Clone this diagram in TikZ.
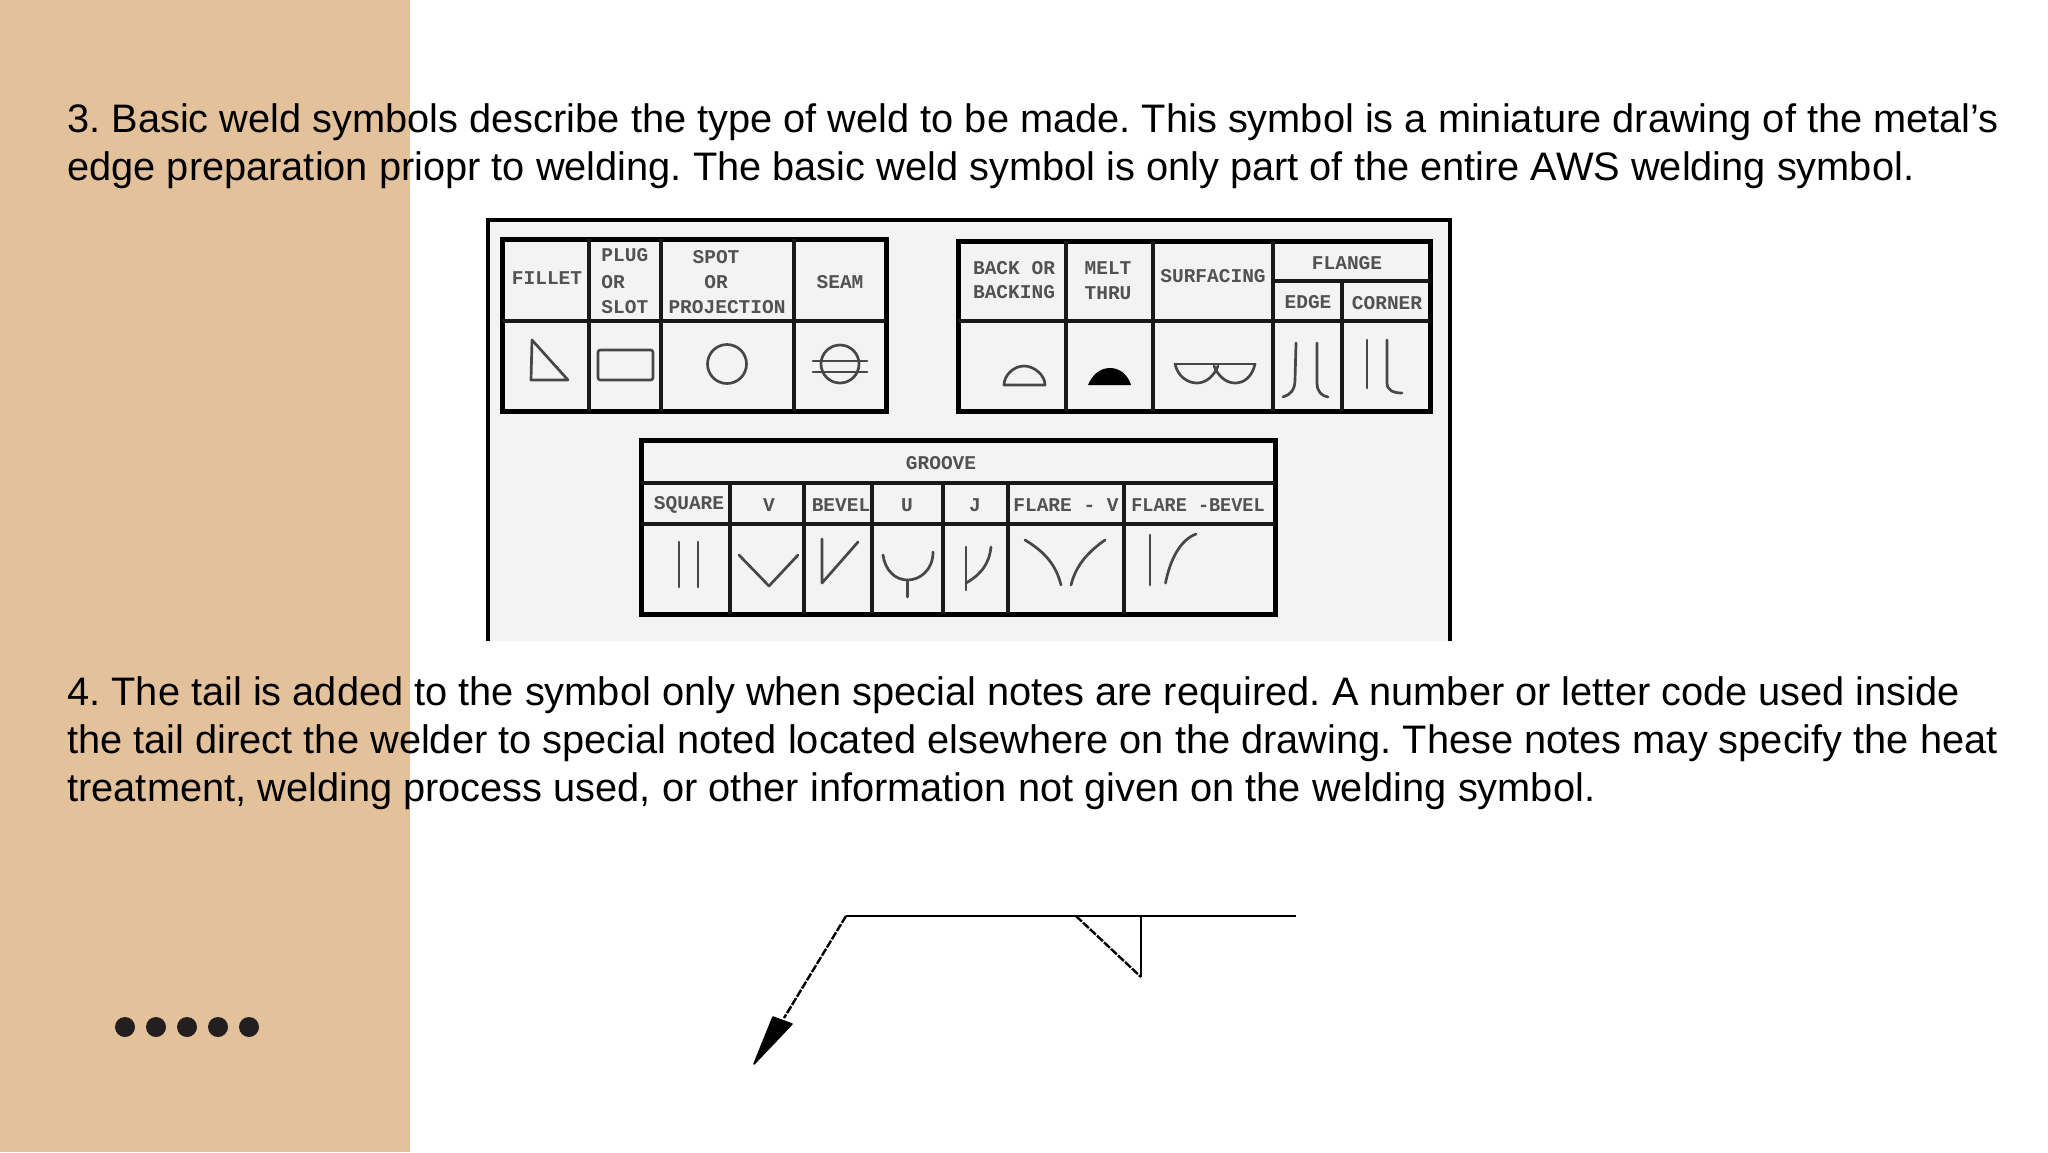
\documentclass[tikz,border=0pt]{standalone}
\usepackage{fontspec}
\setmainfont{Liberation Sans}
\newfontfamily\labelfont{Liberation Mono}
\definecolor{band}{RGB}{227,193,155}
\definecolor{panel}{RGB}{243,243,243}
\definecolor{ink}{RGB}{35,31,32}
\tikzset{
  body/.style={anchor=base west,inner sep=0pt,font=\frenchspacing\fontsize{19.89}{24}\selectfont,text=black},
  lab/.style={inner sep=0pt,font=\labelfont\bfseries\fontsize{9.75}{11}\selectfont,text=black!68},
  heavy/.style={line width=2.5pt,line cap=rect,black},
  rule/.style={line width=1.6pt,black!90},
  sym/.style={line width=1.35pt,black!72,line cap=round,line join=round},
  dotm/.style={circle,fill=ink,minimum size=10pt,inner sep=0pt},
  pix/.style={line width=1.2pt,black},
}
\begin{document}
\begin{tikzpicture}[x=0.5pt,y=-0.5pt]
\useasboundingbox (0,0) rectangle (2048,1152);
\fill[white] (0,0) rectangle (2048,1152);
\fill[band] (0,0) rectangle (410,1152);
% picture panel
\fill[panel] (488,220) rectangle (1450,641);
\draw[line width=2.3pt,black] (488,641) -- (488,220) -- (1450,220) -- (1450,641);
% text
\node[body] (t1) at (67,132) {3. Basic weld symbols describe the type of weld to be made. This symbol is a miniature drawing of the metal’s};
\node[body] (t2) at (67,180) {edge preparation priopr to welding. The basic weld symbol is only part of the entire AWS welding symbol.};
\node[body] (t3) at (67,705) {4. The tail is added to the symbol only when special notes are required. A number or letter code used inside};
\node[body] (t4) at (67,753) {the tail direct the welder to special noted located elsewhere on the drawing. These notes may specify the heat};
\node[body] (t5) at (67,801) {treatment, welding process used, or other information not given on the welding symbol.};
% table 1
\draw[heavy] (502,239) rectangle (886,411);
\draw[rule] (502,321) -- (886,321);
\foreach \x in {589,661,794} \draw[rule] (\x,239) -- (\x,411);
\node[lab] (a1) at (547,278) {FILLET};
\node[lab,anchor=west] (a2) at (601,255) {PLUG};
\node[lab,anchor=west] (a3) at (601,282) {OR};
\node[lab,anchor=west] (a4) at (601,307) {SLOT};
\node[lab] (a5) at (716,257) {SPOT};
\node[lab] (a6) at (716,282) {OR};
\node[lab] (a7) at (727,307) {PROJECTION};
\node[lab] (a8) at (840,282) {SEAM};
\draw[sym] (532,340) -- (531,380) -- (568,380) -- cycle;
\draw[sym,rounded corners=1.2pt] (598,350) rectangle (653,380);
\draw[sym] (727,364) circle[radius=19.5];
\draw[sym] (840,364) circle[radius=19];
\draw[sym] (813,361) -- (867,361) (813,372) -- (867,372);
% table 2
\draw[heavy] (958,241) rectangle (1430,411);
\draw[rule] (958,321) -- (1430,321);
\draw[rule] (1273,281) -- (1430,281);
\foreach \x in {1066,1153,1273} \draw[rule] (\x,241) -- (\x,411);
\draw[rule] (1342,281) -- (1342,411);
\node[lab] (b1) at (1014,268) {BACK OR};
\node[lab] (b2) at (1014,292) {BACKING};
\node[lab] (b3) at (1108,268) {MELT};
\node[lab] (b4) at (1108,293) {THRU};
\node[lab] (b5) at (1213,276) {SURFACING};
\node[lab] (b6) at (1347,263) {FLANGE};
\node[lab] (b7) at (1308,302) {EDGE};
\node[lab] (b8) at (1387,303) {CORNER};
\draw[sym] (1004,385) .. controls (1004,375) and (1014,366) .. (1024,366) .. controls (1034,366) and (1045,375) .. (1045,385) -- cycle;
\fill[black] (1088,385) .. controls (1092,375) and (1100,368) .. (1110,368) .. controls (1120,368) and (1128,375) .. (1131,385) -- cycle;
\draw[sym] (1175,364) -- (1255,364);
\draw[sym] (1175,364) .. controls (1178,377) and (1188,383) .. (1197,383) .. controls (1206,383) and (1214,376) .. (1218,366);
\draw[sym] (1214,366) .. controls (1218,376) and (1226,383) .. (1235,383) .. controls (1244,383) and (1252,377) .. (1255,364);
\draw[sym] (1296,343) -- (1295,380) .. controls (1295,390) and (1290,395) .. (1283,397);
\draw[sym] (1317,343) -- (1317,383) .. controls (1317,392) and (1322,396) .. (1328,397);
\draw[sym] (1367,340) -- (1367,388);
\draw[sym] (1387,340) -- (1387,383) .. controls (1387,390) and (1393,393) .. (1402,393);
% table 3
\draw[heavy] (641,440) rectangle (1275,614);
\draw[rule] (641,483) -- (1275,483);
\draw[rule] (641,524) -- (1275,524);
\foreach \x in {730,804,872,943,1008,1124} \draw[rule] (\x,483) -- (\x,614);
\node[lab] (c1) at (941,463) {GROOVE};
\node[lab] (c2) at (689,505) {SQUARE};
\node[lab] (c3) at (769,505) {V};
\node[lab] (c4) at (841,505) {BEVEL};
\node[lab] (c5) at (907,505) {U};
\node[lab] (c6) at (975,505) {J};
\node[lab] (c7) at (1066,505) {FLARE - V};
\node[lab,xscale=0.95] (c8) at (1198,505) {FLARE -BEVEL};
\draw[sym] (679,542) -- (679,587) (698,542) -- (698,587);
\draw[sym] (739,555) -- (769,586) -- (798,555);
\draw[sym] (822,539) -- (822,583) -- (858,542);
\draw[sym] (883,555) .. controls (885,570) and (895,580) .. (907.5,580) .. controls (920,580) and (933,570) .. (933,552);
\draw[sym] (907.5,580) -- (907.5,597);
\draw[sym] (966,547) -- (966,590);
\draw[sym] (966,583) .. controls (980,575) and (989,565) .. (991,547);
\draw[sym] (1025,540) .. controls (1045,552) and (1056,565) .. (1061,585);
\draw[sym] (1071,585) .. controls (1076,565) and (1088,552) .. (1105,540);
\draw[sym] (1150,535) -- (1150,585);
\draw[sym] (1165.5,583) .. controls (1170,560) and (1180,540) .. (1196,534);
% tail figure
\coordinate (corner) at (846,916);
\coordinate (far) at (1296,916);
\coordinate (tip) at (754,1064);
\coordinate (neck) at (784,1018);
\coordinate (wa) at (773,1017);
\coordinate (wb) at (792,1024);
\coordinate (ws) at (1076,916);
\coordinate (wv) at (1141,916);
\coordinate (wp) at (1141,977);
\draw[pix] (far) -- (corner);
\draw[pix,dash pattern=on 4pt off 0.8pt] (corner) -- (neck);
\filldraw[black,line width=0.8pt,line join=round] (tip) -- (wa) -- (wb) -- cycle;
\draw[pix,dash pattern=on 4pt off 0.8pt] (ws) -- (wp);
\draw[pix] (wv) -- (wp);
% dots
\foreach \x/\n in {125/d1,156/d2,187/d3,218/d4,249/d5} \node[dotm] (\n) at (\x,1027) {};
\end{tikzpicture}
\end{document}
